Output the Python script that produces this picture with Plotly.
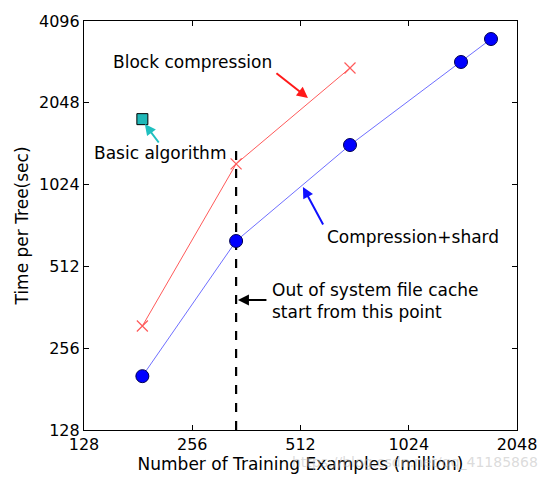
import math
import plotly.graph_objects as go

# training examples (million) / time per tree (sec)
x_shard = [186, 339, 703, 1431, 1734]
y_shard = [202, 635, 1432, 2894, 3516]

x_block = [186, 339, 703]
y_block = [309, 1220, 2750]

x_basic = [186]
y_basic = [1783]

x_cache = 339
cache_line_y = [128, 1457]

ticks = [128, 256, 512, 1024, 2048, 4096]

FONT = 'DejaVu Sans'

fig = go.Figure()

fig.add_trace(go.Scatter(
    x=[x_cache, x_cache], y=cache_line_y, mode='lines',
    line=dict(color='black', width=2.2, dash='dash'), hoverinfo='skip'))

fig.add_trace(go.Scatter(
    x=x_block, y=y_block, mode='lines+markers', name='Block compression',
    line=dict(color='#ff5a5a', width=1),
    marker=dict(symbol='x-thin-open', size=11, line=dict(color='#ff2020', width=1.2))))

fig.add_trace(go.Scatter(
    x=x_shard, y=y_shard, mode='lines+markers', name='Compression+shard',
    line=dict(color='#6f6fff', width=1),
    marker=dict(symbol='circle', size=13, color='#0000ff', line=dict(color='#000050', width=1))))

fig.add_trace(go.Scatter(
    x=x_basic, y=y_basic, mode='markers', name='Basic algorithm',
    marker=dict(symbol='square', size=11, color='#20b8b8', line=dict(color='black', width=1))))

ann_font = dict(family=FONT, size=17, color='black')

# annotations on log axes take log10 positions
def arrow(x, y, ax, ay, color):
    fig.add_annotation(x=math.log10(x), y=math.log10(y), xref='x', yref='y', text='',
                       showarrow=True, ax=ax, ay=ay, arrowhead=2, arrowsize=1.1,
                       arrowwidth=2, arrowcolor=color)

def label(text, x, y, xanchor='center'):
    fig.add_annotation(x=math.log10(x), y=math.log10(y), xref='x', yref='y', text=text,
                       showarrow=False, font=ann_font, xanchor=xanchor, align='left')

label('Block compression', 257, 2894)
arrow(537, 2133, -33, -26, '#ff1a1a')

label('Basic algorithm', 208, 1338)
arrow(189, 1711, 15, 20, '#20c0c0')

label('Compression+shard', 1052, 657)
arrow(520, 1004, 21, 39, '#1010ff')

label('Out of system file cache<br>start from this point', 421, 382, xanchor='left')
arrow(343, 385, 30, 0, 'black')

fig.add_annotation(x=1.053, y=-0.078, xref='paper', yref='paper', text='https://blog.csdn.net/qq_41185868',
                   showarrow=False, xanchor='right', yanchor='middle',
                   font=dict(family=FONT, size=14, color='rgba(190,190,190,0.55)'))

axis_common = dict(type='log', tickvals=ticks, ticktext=[str(t) for t in ticks],
                   ticks='inside', ticklen=5, tickcolor='black', showgrid=False,
                   zeroline=False, showline=True, linecolor='black', linewidth=1.2,
                   mirror='ticks', automargin=False,
                   tickfont=dict(family=FONT, size=16, color='black'))

fig.update_xaxes(**axis_common, range=[7 * 0.30103, 11 * 0.30103],
                 title=dict(text='Number of Training Examples (million)', standoff=0,
                            font=dict(family=FONT, size=17, color='black')))
fig.update_yaxes(**axis_common, range=[7 * 0.30103, 12 * 0.30103],
                 title=dict(text='Time per Tree(sec)', standoff=6,
                            font=dict(family=FONT, size=17, color='black')))

fig.update_layout(width=550, height=482, showlegend=False,
                  plot_bgcolor='white', paper_bgcolor='white',
                  margin=dict(l=84, r=33, t=21, b=52))

fig.write_html('out.html', config={'displayModeBar': False},
               post_script="document.body.style.margin='0px';")
